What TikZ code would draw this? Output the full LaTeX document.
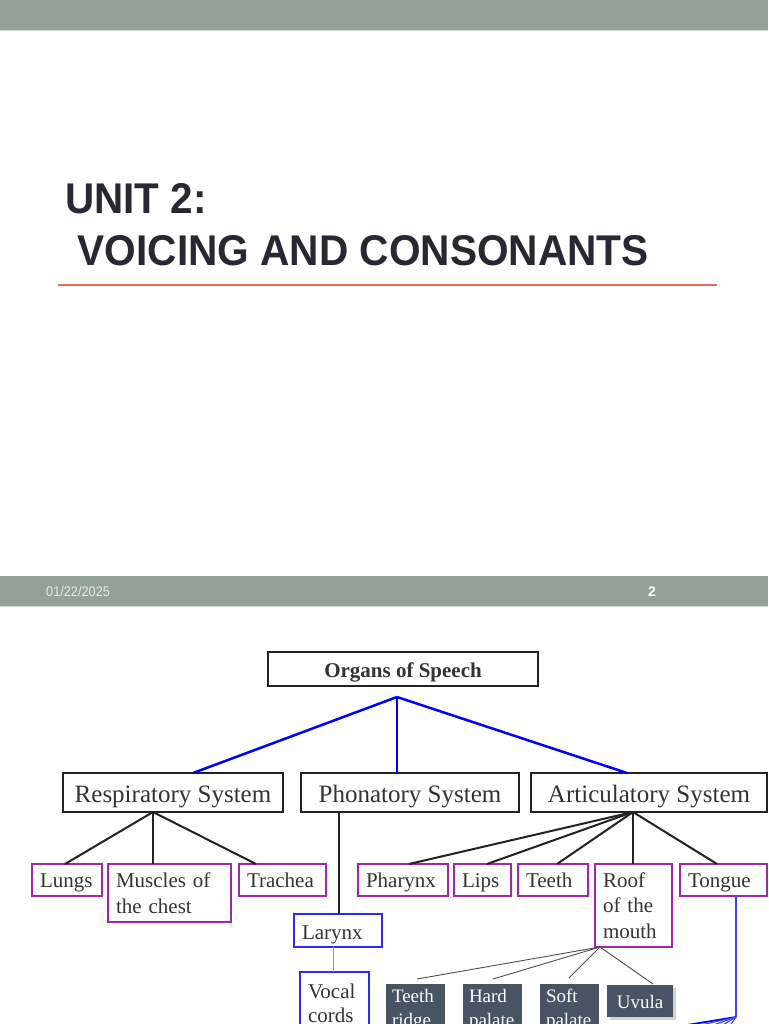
\documentclass[tikz,border=0pt]{standalone}
\usepackage{fontspec}
\setmainfont{Liberation Serif}
\setsansfont{Liberation Sans}
\usetikzlibrary{shadows}
\definecolor{barc}{RGB}{147,162,151}
\definecolor{barline}{RGB}{214,220,216}
\definecolor{titlec}{RGB}{40,40,52}
\definecolor{redl}{RGB}{228,110,94}
\definecolor{datec}{RGB}{232,236,233}
\definecolor{edge}{RGB}{34,34,38}
\definecolor{txt}{RGB}{51,51,51}
\definecolor{purp}{RGB}{160,40,168}
\definecolor{bluee}{RGB}{40,40,255}
\definecolor{slate}{RGB}{72,84,100}
\begin{document}
\begin{tikzpicture}[x=1pt,y=-1pt,
  box/.style={anchor=north west, outer sep=0pt, inner sep=0pt, text=txt},
  toplvl/.style={box, draw=edge, line width=2pt, font=\bfseries\fontsize{21}{25}\selectfont, align=center, text height=17pt, text depth=1pt},
  syslvl/.style={box, draw=edge, line width=2pt, font=\fontsize{25}{30}\selectfont, align=center, text height=22pt, text depth=2pt},
  leafm/.style={box, draw=purp, line width=1.5pt, font=\fontsize{21}{25.5}\selectfont, align=left, inner xsep=8pt},
  leaf/.style={leafm, text height=16.5pt, text depth=2pt},
  bleafm/.style={box, draw=bluee, line width=1.3pt, font=\fontsize{21}{24}\selectfont, align=left, inner xsep=8pt},
  bleaf/.style={bleafm, text height=19pt, text depth=1pt},
  dleaf/.style={box, fill=slate, text=white, font=\fontsize{19}{24}\selectfont, align=left, inner xsep=6pt},
  bluelink/.style={draw=blue, line width=2.5pt},
  blacklink/.style={draw=edge, line width=2pt},
  thinlink/.style={draw=black!70, line width=0.9pt},
  graylink/.style={draw=black!40, line width=1.3pt},
  tonguelink/.style={draw=blue!75, line width=1.1pt}
]
\useasboundingbox (0,0) rectangle (768,1024);
\clip (0,0) rectangle (768,1024);
\fill[white] (0,0) rectangle (768,1024);

% slide 1
\fill[barc] (0,0) rectangle (768,30);
\draw[barline, line width=1.2pt] (0,30.6) -- (768,30.6);
\node[anchor=base west, inner sep=0pt, text=titlec, font=\sffamily\bfseries\fontsize{43}{50}\selectfont] (t1) at (65,214) {\scalebox{0.94}[1]{UNIT 2:}};
\node[anchor=base west, inner sep=0pt, text=titlec, font=\sffamily\bfseries\fontsize{43}{50}\selectfont] (t2) at (77.5,265) {\scalebox{0.945}[1]{VOICING AND CONSONANTS}};
\draw[redl, line width=1.5pt] (58,285) -- (717,285);

% footer bar
\fill[barc] (0,576) rectangle (768,606);
\draw[barline, line width=1.2pt] (0,606.6) -- (768,606.6);
\node[anchor=west, inner sep=0pt, text=datec, font=\sffamily\fontsize{14}{16}\selectfont] (date) at (46,591.5) {\scalebox{0.91}[1]{01/22/2025}};
\node[anchor=center, inner sep=0pt, text=white, font=\sffamily\bfseries\fontsize{14}{16}\selectfont] (pg) at (652,592) {2};

% diagram
\node[toplvl, minimum width=270pt, minimum height=34pt] (organs) at (268,652) {Organs of Speech};

\node[syslvl, minimum width=220pt, minimum height=39pt] (resp) at (63,773) {Respiratory System};
\node[syslvl, minimum width=218pt, minimum height=39pt] (phon) at (301,773) {Phonatory System};
\node[syslvl, minimum width=236pt, minimum height=39pt] (art) at (531,773) {Articulatory System};

\node[leaf, text width=54pt, minimum height=32pt] (lungs) at (32,864) {Lungs};
\node[leafm, text width=107pt, minimum height=58pt] (muscles) at (108,864) {Muscles of\\the chest};
\node[leaf, text width=71pt, minimum height=32pt] (trachea) at (239,864) {Trachea};
\node[leaf, text width=74pt, minimum height=32pt] (pharynx) at (358,864) {Pharynx};
\node[leaf, text width=41pt, minimum height=32pt] (lips) at (454,864) {Lips};
\node[leaf, text width=54pt, minimum height=32pt] (teeth) at (518,864) {Teeth};
\node[leafm, text width=61pt, minimum height=83pt] (roof) at (595,864) {Roof\\of the\\mouth};
\node[leaf, text width=71pt, minimum height=32pt] (tongue) at (680,864) {Tongue};

\node[bleaf, text width=72pt, minimum height=33pt] (larynx) at (294,914) {Larynx};
\node[bleafm, text width=53pt, minimum height=62pt] (vocal) at (300,972) {Vocal\\cords};

\node[dleaf, text width=47pt, minimum height=51pt] (ridge) at (386,984) {Teeth\\ridge};
\node[dleaf, text width=47pt, minimum height=51pt] (hard) at (463,984) {Hard\\palate};
\node[dleaf, text width=47pt, minimum height=51pt] (soft) at (540,984) {Soft\\palate};
\node[box, fill=slate, text=white, font=\fontsize{19}{24}\selectfont, minimum width=66pt, minimum height=32pt,
      text height=15pt, text depth=1pt,
      drop shadow={shadow xshift=2.5pt, shadow yshift=-2.5pt, opacity=0.35}] (uvula) at (607,985) {Uvula};

% connectors: organs -> systems
\draw[bluelink] ([xshift=-6pt,yshift=-11pt]organs.south) -- ([xshift=20pt]resp.north);
\draw[bluelink] ([xshift=-6pt,yshift=-11pt]organs.south) -- ([xshift=-13pt]phon.north);
\draw[bluelink] ([xshift=-6pt,yshift=-11pt]organs.south) -- ([xshift=-22pt]art.north);

% respiratory
\draw[blacklink] ([xshift=-20pt]resp.south) -- ([xshift=-2pt]lungs.north);
\draw[blacklink] ([xshift=-20pt]resp.south) -- ([xshift=-16.5pt]muscles.north);
\draw[blacklink] ([xshift=-20pt]resp.south) -- ([xshift=-26.5pt]trachea.north);

% phonatory
\draw[blacklink] ([xshift=1pt]larynx.north) -- ([xshift=1pt]larynx.north |- phon.south);
\draw[graylink] ([xshift=-1pt]vocal.north) -- ([xshift=-1pt]vocal.north |- larynx.south);

% articulatory
\draw[blacklink] ([xshift=-16pt]art.south) -- ([xshift=6pt]pharynx.north);
\draw[blacklink] ([xshift=-16pt]art.south) -- ([xshift=4.5pt]lips.north);
\draw[blacklink] ([xshift=-16pt]art.south) -- ([xshift=4pt]teeth.north);
\draw[blacklink] ([xshift=-16pt]art.south) -- ([xshift=-0.5pt]roof.north);
\draw[blacklink] ([xshift=-16pt]art.south) -- ([xshift=-6.5pt]tongue.north);

% roof of the mouth
\draw[thinlink] ([xshift=-33.5pt]roof.south) -- ([xshift=1.5pt,yshift=5pt]ridge.north);
\draw[thinlink] ([xshift=-33.5pt]roof.south) -- ([xshift=0.5pt,yshift=5pt]hard.north);
\draw[thinlink] ([xshift=-33.5pt]roof.south) -- ([xshift=-0.5pt,yshift=6pt]soft.north);
\draw[thinlink] ([xshift=-33.5pt]roof.south) -- ([xshift=13pt,yshift=1pt]uvula.north);

% tongue
\coordinate (tc) at (736,1017);
\coordinate (f1) at (632,1034);
\coordinate (f2) at (662,1034);
\coordinate (f3) at (688,1034);
\coordinate (f4) at (708,1034);
\coordinate (f5) at (724,1034);
\draw[tonguelink] (tc |- tongue.south) -- (tc);
\draw[draw=blue, line width=1.8pt] (tc) -- (f1);
\draw[tonguelink] (tc) -- (f2);
\draw[tonguelink] (tc) -- (f3);
\draw[tonguelink] (tc) -- (f4);
\draw[tonguelink] (tc) -- (f5);
\end{tikzpicture}
\end{document}
